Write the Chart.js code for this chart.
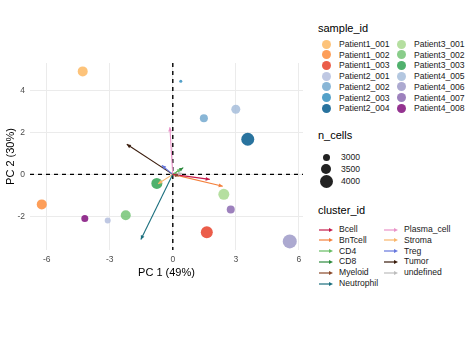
<!DOCTYPE html>
<html>
<head>
<meta charset="utf-8">
<script src="https://cdn.jsdelivr.net/npm/chart.js@4/dist/chart.umd.min.js"></script>
<style>
  body { margin: 0; background: #fff; font-family: "Liberation Sans", Arial, sans-serif; }
  #wrap { position: relative; width: 474px; height: 338px; }
  #chart { position: absolute; left: 0; top: 0; }
  .lg { position: absolute; font-size: 8.6px; color: #1a1a1a; white-space: nowrap; }
  .lt { position: absolute; font-size: 11px; color: #000; }
  .dot { position: absolute; border-radius: 50%; }
</style>
</head>
<body>
<div id="wrap">
  <canvas id="chart" width="310" height="338"></canvas>
  <div id="legend"></div>
</div>
<script>
// sample scores on PC1/PC2
var sampleIds = ['Patient1_001', 'Patient1_002', 'Patient1_003', 'Patient2_001', 'Patient2_002', 'Patient2_003', 'Patient2_004',
                 'Patient3_001', 'Patient3_002', 'Patient3_003', 'Patient4_005', 'Patient4_006', 'Patient4_007', 'Patient4_008'];
var pc1 = [-4.29, -6.24, 1.62, -3.10, 1.48, 0.38, 3.57, 2.43, -2.24, -0.76, 3.00, 5.57, 2.76, -4.19];
var pc2 = [4.90, -1.43, -2.76, -2.20, 2.67, 4.43, 1.67, -0.95, -1.95, -0.43, 3.10, -3.19, -1.67, -2.10];
var nCells = [3500, 3500, 3830, 2830, 3170, 2350, 4000, 3670, 3500, 3670, 3330, 4170, 3170, 3000];
var sampleColors = ['#FDB863', '#FD8D3C', '#E8412A', '#B4BEDE', '#74A9CF', '#3690C0', '#045A8D',
                    '#A8D98F', '#74C476', '#31A354', '#A6BDDB', '#9E9AC8', '#8C6BB1', '#810F7C'];

// loadings (arrows)
var clusters = ['Bcell', 'BnTcell', 'CD4', 'CD8', 'Myeloid', 'Neutrophil', 'Plasma_cell', 'Stroma', 'Treg', 'Tumor', 'undefined'];
var loadX = [1.76, 2.38, 0.40, 0.50, 0.30, -1.52, -0.14, -0.70, -0.52, -2.19, 0.45];
var loadY = [-0.24, -0.57, 0.25, 0.32, -0.08, -3.10, 2.24, -0.45, 0.43, 1.43, 0.05];
var clusterColors = ['#C51B4B', '#F4803C', '#66BD63', '#2E8B3E', '#8B4A2B', '#1B6F7E', '#E993C8', '#F9B66B', '#6677DD', '#3A1C0C', '#BDBDBD'];

var xTicks = [-6, -3, 0, 3, 6];
var yTicks = [-2, 0, 2, 4];
var sizeBreaks = [3000, 3500, 4000];

function sizeToRadius(n) { return Math.max(1.3, 3.5 + (n - 3000) * 0.003); }
function alpha(hex, a) {
  var r = parseInt(hex.slice(1, 3), 16), g = parseInt(hex.slice(3, 5), 16), b = parseInt(hex.slice(5, 7), 16);
  return 'rgba(' + r + ',' + g + ',' + b + ',' + a + ')';
}

var datasets = [];
datasets.push({
  label: 'samples',
  data: pc1.map(function (v, i) { return { x: v, y: pc2[i] }; }),
  backgroundColor: sampleColors.map(function (c) { return alpha(c, 0.85); }),
  borderWidth: 0,
  pointRadius: nCells.map(sizeToRadius),
  order: 2
});
clusters.forEach(function (c, i) {
  datasets.push({
    label: c,
    data: [{ x: 0, y: 0 }, { x: loadX[i], y: loadY[i] }],
    showLine: true,
    borderColor: clusterColors[i],
    borderWidth: 1.1,
    pointRadius: 0,
    order: 1
  });
});

var refLines = {
  id: 'refLines',
  beforeDatasetsDraw: function (chart) {
    var ctx = chart.ctx, x = chart.scales.x, y = chart.scales.y, a = chart.chartArea;
    ctx.save();
    ctx.strokeStyle = '#000';
    ctx.lineWidth = 1.4;
    ctx.setLineDash([4, 4]);
    ctx.beginPath();
    ctx.moveTo(a.left, y.getPixelForValue(0)); ctx.lineTo(a.right, y.getPixelForValue(0));
    ctx.moveTo(x.getPixelForValue(0), a.top); ctx.lineTo(x.getPixelForValue(0), a.bottom);
    ctx.stroke();
    ctx.restore();
  },
  afterDatasetsDraw: function (chart) {
    var ctx = chart.ctx, x = chart.scales.x, y = chart.scales.y;
    ctx.save();
    clusters.forEach(function (c, i) {
      var x0 = x.getPixelForValue(0), y0 = y.getPixelForValue(0);
      var x1 = x.getPixelForValue(loadX[i]), y1 = y.getPixelForValue(loadY[i]);
      var ang = Math.atan2(y1 - y0, x1 - x0), L = 4.5, w = 0.45;
      ctx.fillStyle = clusterColors[i];
      ctx.beginPath();
      ctx.moveTo(x1, y1);
      ctx.lineTo(x1 - L * Math.cos(ang - w), y1 - L * Math.sin(ang - w));
      ctx.lineTo(x1 - L * Math.cos(ang + w), y1 - L * Math.sin(ang + w));
      ctx.closePath();
      ctx.fill();
    });
    ctx.restore();
  }
};

var tickFont = { family: 'Liberation Sans', size: 8.5 };
new Chart(document.getElementById('chart').getContext('2d'), {
  type: 'scatter',
  data: { datasets: datasets },
  options: {
    responsive: false,
    animation: false,
    layout: { padding: { top: 63, right: 7, bottom: 54, left: 0 } },
    plugins: { legend: { display: false }, tooltip: { enabled: false } },
    scales: {
      x: {
        min: -6.8, max: 6.2,
        afterBuildTicks: function (s) { s.ticks = xTicks.map(function (v) { return { value: v }; }); },
        afterFit: function (s) { s.height = 34; },
        border: { display: false },
        grid: { color: '#EBEBEB', lineWidth: 1, drawTicks: false },
        ticks: { color: '#4D4D4D', font: tickFont, padding: 5, maxRotation: 0 },
        title: { display: true, text: 'PC 1 (49%)', color: '#000', font: { family: 'Liberation Sans', size: 11 }, padding: { top: 6 } }
      },
      y: {
        min: -3.6, max: 5.3,
        afterBuildTicks: function (s) { s.ticks = yTicks.map(function (v) { return { value: v }; }); },
        afterFit: function (s) { s.width = 30; },
        border: { display: false },
        grid: { color: '#EBEBEB', lineWidth: 1, drawTicks: false },
        ticks: { color: '#4D4D4D', font: tickFont, padding: 5 },
        title: { display: true, text: 'PC 2 (30%)', color: '#000', font: { family: 'Liberation Sans', size: 11 }, padding: { top: 4, bottom: 0 } }
      }
    }
  },
  plugins: [refLines]
});

// legends as html
var lg = document.getElementById('legend');
function add(html) { lg.insertAdjacentHTML('beforeend', html); }
add('<div class="lt" style="left:318px;top:22px">sample_id</div>');
sampleIds.forEach(function (s, i) {
  var col = i < 7 ? 0 : 1, row = i % 7;
  var lx = col ? 397 : 322, ty = 40 + row * 10.7;
  add('<div class="dot" style="left:' + lx + 'px;top:' + (ty - 0.5) + 'px;width:9px;height:9px;background:' + alpha(sampleColors[i], 0.85) + '"></div>');
  add('<div class="lg" style="left:' + (lx + 17) + 'px;top:' + (ty - 1) + 'px">' + s + '</div>');
});
add('<div class="lt" style="left:318px;top:129px">n_cells</div>');
sizeBreaks.forEach(function (n, i) {
  var r = sizeToRadius(n), cy = 157 + i * 12.3;
  add('<div class="dot" style="left:' + (326 - r) + 'px;top:' + (cy - r) + 'px;width:' + 2 * r + 'px;height:' + 2 * r + 'px;background:#222"></div>');
  add('<div class="lg" style="left:341px;top:' + (cy - 5.5) + 'px">' + n + '</div>');
});
add('<div class="lt" style="left:318px;top:204px">cluster_id</div>');
clusters.forEach(function (c, i) {
  var col = i < 6 ? 0 : 1, row = i < 6 ? i : i - 6;
  var lx = col ? 383 : 318, cy = 229.5 + row * 10.8;
  add('<svg style="position:absolute;left:' + lx + 'px;top:' + (cy - 3) + 'px" width="16" height="6"><line x1="1" y1="3" x2="12" y2="3" stroke="' + clusterColors[i] + '" stroke-width="1.2"/><polygon points="15,3 11,1 11,5" fill="' + clusterColors[i] + '"/></svg>');
  add('<div class="lg" style="left:' + (lx + 21) + 'px;top:' + (cy - 5.5) + 'px">' + c + '</div>');
});
</script>
</body>
</html>
